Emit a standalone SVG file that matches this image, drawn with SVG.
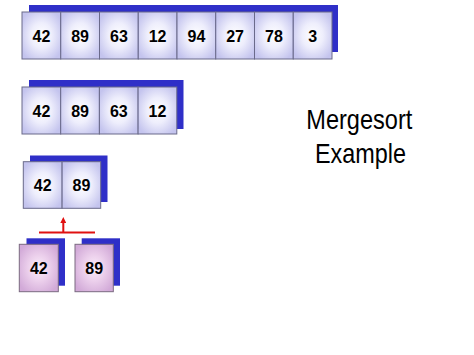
<svg xmlns="http://www.w3.org/2000/svg" width="474" height="355" viewBox="0 0 474 355">
<defs>
<radialGradient id="gb" cx="50%" cy="50%" r="60%">
<stop offset="0" stop-color="#ffffff"/>
<stop offset="0.45" stop-color="#eeeefc"/>
<stop offset="1" stop-color="#c4c4ee"/>
</radialGradient>
<radialGradient id="gp" cx="50%" cy="50%" r="60%">
<stop offset="0" stop-color="#fbeefb"/>
<stop offset="0.45" stop-color="#ecd0ec"/>
<stop offset="1" stop-color="#d2aad8"/>
</radialGradient>
<marker id="ah" markerWidth="6" markerHeight="6" refX="3" refY="3" orient="auto" markerUnits="userSpaceOnUse">
<path d="M0,0 L6,3 L0,6 z" fill="#e01010"/>
</marker>
</defs>
<style>
.sh{fill:#2f2fc8}
.c{fill:url(#gb);stroke:#6a6a8a;stroke-width:1}
.p{fill:url(#gp);stroke:#7a6a80;stroke-width:1}
.n{font-family:"Liberation Sans",Arial,sans-serif;font-weight:bold;font-size:16px;text-anchor:middle;fill:#000}
.t{font-family:"Liberation Sans",Arial,sans-serif;font-size:28px;text-anchor:middle;fill:#000}
.r{stroke:#e01010;stroke-width:2;fill:none}
</style>
<rect width="474" height="355" fill="#ffffff"/>

<g id="row1">
<rect class="sh" x="29" y="5" width="309" height="47"/>
<rect class="c" x="22" y="12" width="38.75" height="47"/>
<rect class="c" x="60.75" y="12" width="38.75" height="47"/>
<rect class="c" x="99.5" y="12" width="38.75" height="47"/>
<rect class="c" x="138.25" y="12" width="38.75" height="47"/>
<rect class="c" x="177" y="12" width="38.75" height="47"/>
<rect class="c" x="215.75" y="12" width="38.75" height="47"/>
<rect class="c" x="254.5" y="12" width="38.75" height="47"/>
<rect class="c" x="293.25" y="12" width="38.75" height="47"/>
<text class="n" x="41.4" y="41.5">42</text>
<text class="n" x="80.1" y="41.5">89</text>
<text class="n" x="118.9" y="41.5">63</text>
<text class="n" x="157.6" y="41.5">12</text>
<text class="n" x="196.4" y="41.5">94</text>
<text class="n" x="235.1" y="41.5">27</text>
<text class="n" x="273.9" y="41.5">78</text>
<text class="n" x="312.6" y="41.5">3</text>
</g>

<g id="row2">
<rect class="sh" x="29" y="80" width="154.5" height="49"/>
<rect class="c" x="22" y="87" width="38.7" height="47"/>
<rect class="c" x="60.7" y="87" width="38.7" height="47"/>
<rect class="c" x="99.4" y="87" width="38.7" height="47"/>
<rect class="c" x="138.1" y="87" width="38.7" height="47"/>
<text class="n" x="41.4" y="116.5">42</text>
<text class="n" x="80.1" y="116.5">89</text>
<text class="n" x="118.8" y="116.5">63</text>
<text class="n" x="157.5" y="116.5">12</text>
</g>

<g id="row3">
<rect class="sh" x="30" y="155.5" width="77.5" height="46.5"/>
<rect class="c" x="23.3" y="161.7" width="38.8" height="46.6"/>
<rect class="c" x="62.1" y="161.7" width="38.6" height="46.6"/>
<text class="n" x="42.7" y="190.5">42</text>
<text class="n" x="81.4" y="190.5">89</text>
</g>

<g id="leaf42">
<rect class="sh" x="26.5" y="238.3" width="38.5" height="47.4"/>
<rect class="p" x="19.3" y="244.3" width="39" height="47.4"/>
<text class="n" x="38.8" y="273.5">42</text>
</g>

<g id="leaf89">
<rect class="sh" x="81.7" y="238.3" width="38.3" height="47.4"/>
<rect class="p" x="75" y="244.3" width="38.3" height="47.4"/>
<text class="n" x="94.2" y="273.5">89</text>
</g>

<g id="connectors">
<line class="r" x1="39" y1="232.5" x2="95" y2="232.5"/>
<line class="r" x1="63.3" y1="232.5" x2="63.3" y2="220" marker-end="url(#ah)"/>
</g>

<g id="title">
<text class="t" x="359.3" y="129.3" textLength="106" lengthAdjust="spacingAndGlyphs">Mergesort</text>
<text class="t" x="360.5" y="163.3" textLength="91" lengthAdjust="spacingAndGlyphs">Example</text>
</g>
</svg>
